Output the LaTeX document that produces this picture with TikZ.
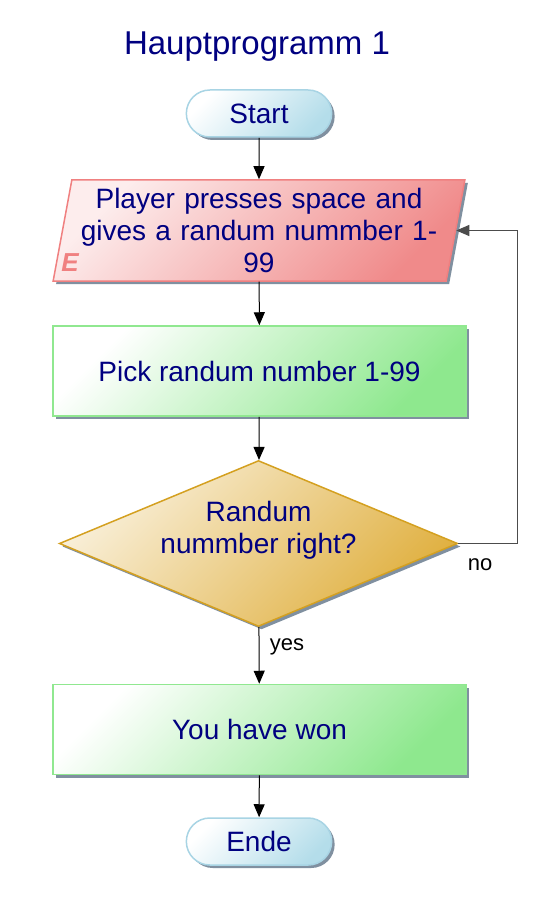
\documentclass[tikz,border=0pt]{standalone}
\usepackage{fontspec}
\setmainfont{Liberation Sans}
\usetikzlibrary{shapes.geometric,shapes.misc,shadows,arrows.meta}
\definecolor{txtblue}{HTML}{000080}
\definecolor{pillline}{HTML}{A8D4E4}
\definecolor{pillfill}{HTML}{B4DDEA}
\definecolor{inline}{HTML}{F08080}
\definecolor{infill}{HTML}{F08A8A}
\definecolor{actline}{HTML}{90E890}
\definecolor{actfill}{HTML}{8EE88E}
\definecolor{decline}{HTML}{D4A020}
\definecolor{decfill}{HTML}{E0B040}
\definecolor{shadowgray}{HTML}{8090A0}
\tikzset{
  shade/.style={drop shadow={shadow xshift=3pt,shadow yshift=-3pt,fill=shadowgray,opacity=1}},
  pill/.style={rounded rectangle, draw=pillline, line width=1.5pt, shade,
    top color=white, bottom color=pillfill, shading angle=45,
    minimum width=152pt, minimum height=47pt, font=\fontsize{28}{32}\selectfont, text=txtblue},
  inbox/.style={trapezium, trapezium left angle=78, trapezium right angle=102,
    trapezium stretches=true, draw=inline, line width=1.5pt, shade,
    top color=white!85!infill, bottom color=infill, shading angle=45,
    minimum width=413pt, minimum height=101pt, inner sep=0pt,
    align=center, text width=360pt, font=\fontsize{28}{32}\selectfont, text=txtblue},
  actbox/.style={rectangle, draw=actline, line width=1.5pt, shade,
    top color=white, bottom color=actfill, shading angle=45,
    minimum width=413pt, minimum height=90pt, font=\fontsize{28}{32}\selectfont, text=txtblue},
  decbox/.style={diamond, aspect=2.4, draw=decline, line width=1.5pt, shade,
    top color=white!80!decfill, bottom color=decfill, shading angle=45,
    minimum width=397pt, minimum height=165pt, inner sep=0pt,
    align=center, font=\fontsize{28}{32}\selectfont, text=txtblue},
  arr/.style={-{Triangle[length=13pt,width=11pt]}, line width=1pt},
  lbl/.style={font=\fontsize{22}{24}\selectfont}
}
\begin{document}
\begin{tikzpicture}[x=1pt,y=-1pt]
  \useasboundingbox (0,0) rectangle (559,909);
  \node[font=\fontsize{33}{36}\selectfont, text=txtblue] (title) at (257,47) {Hauptprogramm 1};
  \node[pill] (start) at (259,113.5) {Start};
  \node[inbox] (inp) at (259,230.5) {Player presses space and\\gives a randum nummber 1-\\99};
  \node[text=inline, font=\fontsize{26}{28}\selectfont\bfseries\itshape] (mark) at (70,263) {E};
  \node[actbox] (pick) at (259.5,371) {Pick randum number 1-99};
  \node[decbox] (dec) at (258.5,543.5) {Randum\\nummber right?\\\mbox{}};
  \node[actbox] (won) at (259.5,729.5) {You have won};
  \node[pill] (ende) at (259,841.5) {Ende};
  % connectors
  \draw[arr] (start) -- (inp);
  \draw[arr] (inp) -- (pick);
  \draw[arr] (pick) -- (dec);
  \draw[arr] (dec) -- (won);
  \draw[arr] (won) -- (ende);
  \coordinate (loop) at (517,543.5);
  \draw[arr, draw=black!70] (dec.east) -- (loop) |- (inp.east);
  % labels
  \node[lbl] (no) at (480,565) {no};
  \node[lbl] (yes) at (287,647) {yes};
\end{tikzpicture}
\end{document}
